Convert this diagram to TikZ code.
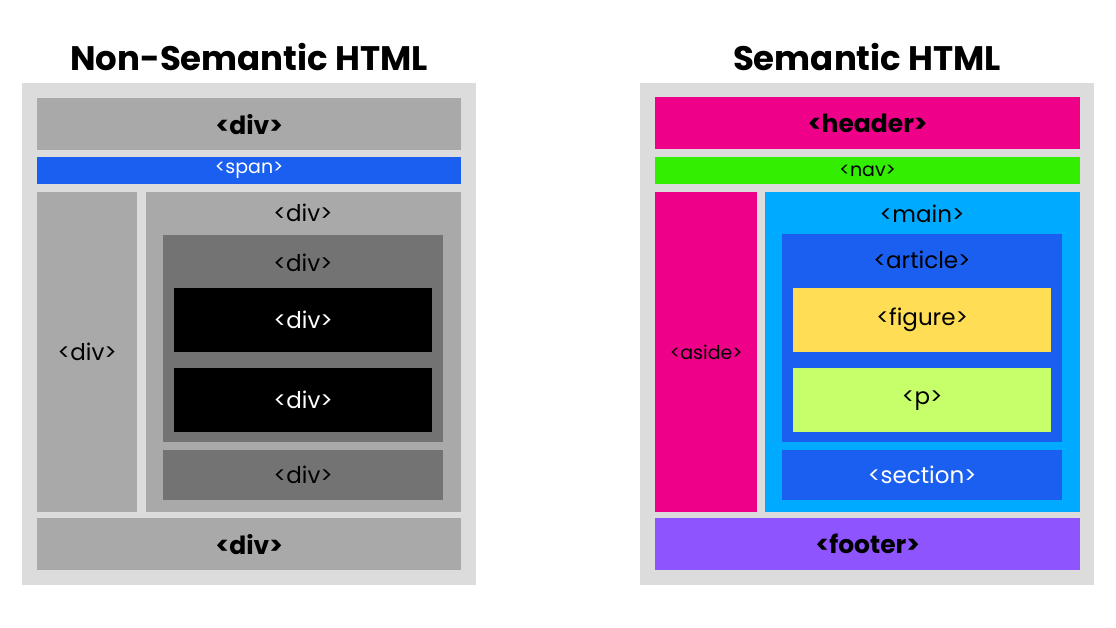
\documentclass[tikz,border=0pt]{standalone}
\usepackage{fontspec}
\setmainfont{Poppins}
\definecolor{pagebg}{HTML}{DCDCDC}
\definecolor{divgray}{HTML}{A9A9A9}
\definecolor{divdark}{HTML}{737373}
\definecolor{tagblue}{HTML}{1A5FF0}
\definecolor{tagpink}{HTML}{EE0088}
\definecolor{taggreen}{HTML}{33EE00}
\definecolor{tagcyan}{HTML}{00AAFF}
\definecolor{tagyellow}{HTML}{FFDD55}
\definecolor{taglime}{HTML}{C6FF6A}
\definecolor{tagpurple}{HTML}{8E55FF}
% box from (x1,y1) to (x2,y2) in pixels, y downwards
\newcommand{\tagbox}[7]{\node[tbox, fill=#6, anchor=north west,
  minimum width={(#4-#2)*1pt}, minimum height={(#5-#3)*1pt}] (#1) at (#2,#3) {#7};}
\tikzset{
  tbox/.style={inner sep=0pt, draw=none},
  big/.style={font=\fontsize{25}{28}\selectfont\bfseries},
  mid/.style={font=\fontsize{23}{26}\selectfont},
  small/.style={font=\fontsize{19}{22}\selectfont},
  title/.style={font=\fontsize{34}{38}\selectfont\bfseries}
}
\begin{document}
\begin{tikzpicture}[x=1pt,y=-1pt]
\useasboundingbox[fill=white] (0,0) rectangle (1116,628);
% left panel
\node[title] (ltitle) at (249,57) {Non-Semantic HTML};
\tagbox{lpage}{22}{83}{476}{585}{pagebg}{}
\tagbox{lhead}{37}{98}{461}{150}{divgray}{}
\node[big] at (lhead) {<div>};
\tagbox{lspan}{37}{157}{461}{184}{tagblue}{}
\node[small, text=white] at (lspan) {<span>};
\tagbox{lside}{37}{192}{137}{512}{divgray}{}
\node[mid] at (lside) {<div>};
\tagbox{lmain}{146}{192}{461}{512}{divgray}{}
\node[mid] (lmainlab) at (303,213) {<div>};
\tagbox{linner}{163}{235}{443}{442}{divdark}{}
\node[mid] (linnerlab) at (303,263) {<div>};
\tagbox{lblacka}{174}{288}{432}{352}{black}{}
\node[mid, text=white] at (lblacka) {<div>};
\tagbox{lblackb}{174}{368}{432}{432}{black}{}
\node[mid, text=white] at (lblackb) {<div>};
\tagbox{llow}{163}{450}{443}{500}{divdark}{}
\node[mid] at (llow) {<div>};
\tagbox{lfoot}{37}{518}{461}{570}{divgray}{}
\node[big] at (lfoot) {<div>};
% right panel
\node[title] (rtitle) at (867,57) {Semantic HTML};
\tagbox{rpage}{640}{83}{1094}{585}{pagebg}{}
\tagbox{rhead}{655}{97}{1080}{149}{tagpink}{}
\node[big] at (rhead) {<header>};
\tagbox{rnav}{655}{157}{1080}{184}{taggreen}{}
\node[small] at (rnav) {<nav>};
\tagbox{raside}{655}{192}{757}{512}{tagpink}{}
\node[small] at (raside) {<aside>};
\tagbox{rmain}{765}{192}{1080}{512}{tagcyan}{}
\node[mid] (rmainlab) at (922,214) {<main>};
\tagbox{rarticle}{782}{234}{1062}{442}{tagblue}{}
\node[mid] (rarticlelab) at (922,260) {<article>};
\tagbox{rfigure}{793}{288}{1051}{352}{tagyellow}{}
\node[mid] at (rfigure) {<figure>};
\tagbox{rpar}{793}{368}{1051}{432}{taglime}{}
\node[mid] at (rpar) {<p>};
\tagbox{rsection}{782}{450}{1062}{500}{tagblue}{}
\node[mid, text=white] at (rsection) {<section>};
\tagbox{rfoot}{655}{518}{1080}{570}{tagpurple}{}
\node[big] at (rfoot) {<footer>};
\end{tikzpicture}
\end{document}
